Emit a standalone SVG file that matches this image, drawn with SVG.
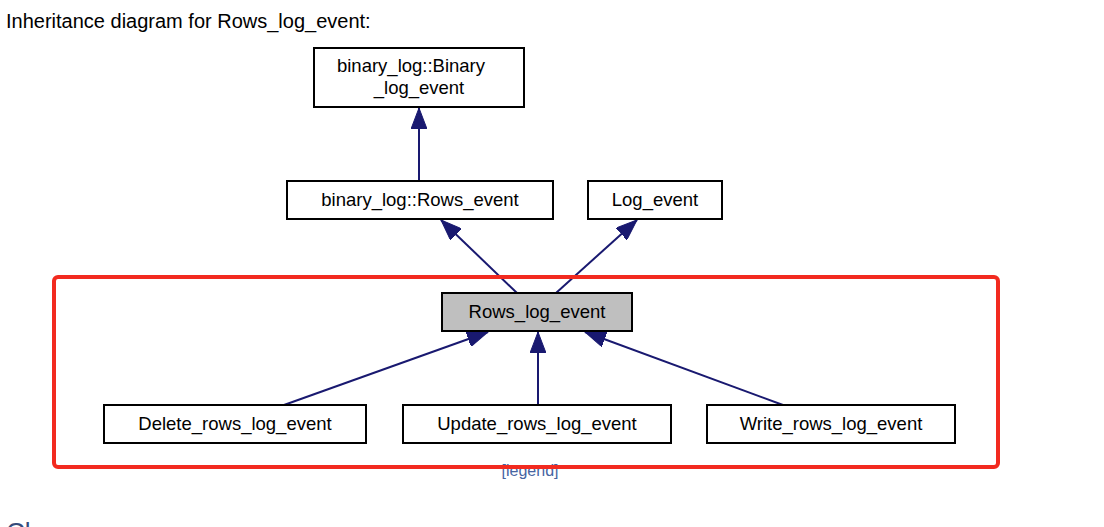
<svg xmlns="http://www.w3.org/2000/svg" width="1104" height="527" viewBox="0 0 1104 527">
<style>
.n rect{fill:#fff;stroke:#000;stroke-width:2}
.n text{font-family:"Liberation Sans",Arial,sans-serif;font-size:18.5px;text-anchor:middle;fill:#000}
#edges line{stroke:#191970;stroke-width:2}
</style>
<defs>
<marker id="ah" markerUnits="userSpaceOnUse" markerWidth="22" markerHeight="16" refX="21" refY="8" orient="auto">
<path d="M0,0 L21,8 L0,16 Z" fill="#191970" stroke="#191970"/>
</marker>
</defs>
<rect width="1104" height="527" fill="#fff"/>
<text x="6" y="28" font-family="'Liberation Sans',Arial,sans-serif" font-size="20" fill="#000">Inheritance diagram for Rows_log_event:</text>
<g id="edges">
<line x1="419" y1="181" x2="419" y2="108" marker-end="url(#ah)"/>
<line x1="517" y1="293" x2="441" y2="220" marker-end="url(#ah)"/>
<line x1="556" y1="293" x2="637" y2="220" marker-end="url(#ah)"/>
<line x1="284" y1="405" x2="488" y2="332" marker-end="url(#ah)"/>
<line x1="538" y1="405" x2="538" y2="332" marker-end="url(#ah)"/>
<line x1="783" y1="405" x2="585" y2="332" marker-end="url(#ah)"/>
</g>
<g id="binary_log_event" class="n"><rect x="314" y="48" width="210" height="59"/><text x="411" y="72">binary_log::Binary</text><text x="419" y="94">_log_event</text></g>
<g id="rows_event" class="n"><rect x="287" y="181" width="266" height="38"/><text x="420" y="206">binary_log::Rows_event</text></g>
<g id="log_event" class="n"><rect x="588" y="181" width="134" height="38"/><text x="655" y="206">Log_event</text></g>
<g id="rows_log_event" class="n"><rect x="442" y="293" width="190" height="38" style="fill:#bfbfbf"/><text x="537" y="318">Rows_log_event</text></g>
<g id="delete_rows_log_event" class="n"><rect x="104" y="405" width="262" height="38"/><text x="235" y="430">Delete_rows_log_event</text></g>
<g id="update_rows_log_event" class="n"><rect x="403" y="405" width="268" height="38"/><text x="537" y="430">Update_rows_log_event</text></g>
<g id="write_rows_log_event" class="n"><rect x="707" y="405" width="248" height="38"/><text x="831" y="430">Write_rows_log_event</text></g>
<text x="530" y="476" font-family="'Liberation Sans',Arial,sans-serif" font-size="16" fill="#4665a2" text-anchor="middle">[legend]</text>
<rect x="54" y="277" width="944" height="190" rx="4" fill="none" stroke="#f22a1f" stroke-width="4"/>
<text x="6" y="541" font-family="'Liberation Sans',Arial,sans-serif" font-size="26" fill="#354c7b">Cl</text>
</svg>
